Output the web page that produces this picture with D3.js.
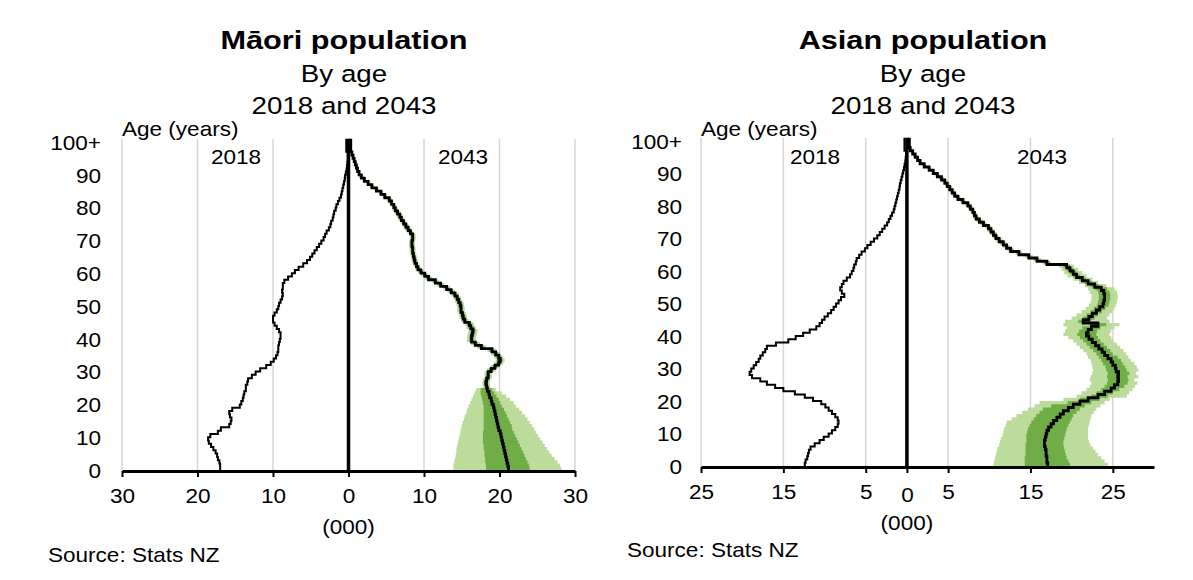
<!DOCTYPE html>
<html>
<head>
<meta charset="utf-8">
<script src="https://cdn.jsdelivr.net/npm/d3@7"></script>
<style>
body { margin: 0; background: #fff; }
text { font-family: "Liberation Sans", Arial, sans-serif; fill: #000; }
</style>
</head>
<body>
<div id="chart"></div>
<script>
// single years of age 0..100 (100 = 100+)
var ages = d3.range(0, 101);
var yTicks = [0, 10, 20, 30, 40, 50, 60, 70, 80, 90, 100];
var maoriXTicks = [-30, -20, -10, 0, 10, 20, 30];
var asianXTicks = [-25, -15, -5, 0, 5, 15, 25];

// Maori population (000)
var maori2018 = [17.0,17.0,17.1,17.3,17.4,17.6,17.9,18.2,18.5,18.6,
  18.3,17.3,16.9,15.8,15.6,15.5,15.7,15.8,15.4,14.4,
  14.2,14.0,13.9,13.8,13.6,13.6,13.4,13.3,12.8,12.3,
  11.7,10.9,10.3,9.9,9.6,9.4,9.3,9.3,9.2,9.1,
  9.0,9.0,9.2,9.5,9.8,10.0,10.0,9.8,9.5,9.3,
  9.2,9.0,8.8,8.7,8.8,8.7,8.7,8.5,8.0,7.5,
  7.1,6.6,6.0,5.5,5.1,4.8,4.5,4.2,3.9,3.6,
  3.3,3.1,2.9,2.6,2.4,2.3,2.1,2.0,1.9,1.7,
  1.6,1.4,1.2,1.0,0.9,0.8,0.7,0.6,0.5,0.45,
  0.35,0.25,0.2,0.15,0.1,0.1,0.1,0.3,0.3,0.3,
  0.3];
var maori2043 = [21.2,21.1,21.0,20.9,20.8,20.7,20.6,20.5,20.4,20.3,
  20.2,20.1,19.9,19.8,19.7,19.6,19.5,19.4,19.3,19.2,
  19.0,18.9,18.7,18.6,18.4,18.3,18.2,18.3,18.5,18.5,
  18.9,19.4,19.9,20.1,19.9,19.5,19.0,17.6,16.8,16.3,
  16.3,16.4,16.5,16.2,16.0,15.4,15.2,15.1,14.9,14.9,
  14.8,14.6,14.4,14.1,13.6,13.0,12.2,11.5,10.6,10.1,
  9.6,9.2,9.0,8.8,8.7,8.6,8.5,8.5,8.4,8.4,
  8.5,8.5,8.2,7.9,7.6,7.3,7.0,6.8,6.5,6.2,
  6.0,5.7,5.4,4.8,4.3,3.7,3.1,2.6,2.1,1.7,
  1.4,1.2,1.05,0.9,0.75,0.6,0.45,0.3,0.3,0.3,
  0.3];
var maoriLo90 = [13.9,13.9,14.0,14.1,14.2,14.3,14.3,14.4,14.5,14.6,
  14.7,14.8,14.9,15.0,15.1,15.3,15.4,15.6,15.7,15.9,
  16.1,16.3,16.5,16.7,16.9,17.8,17.7,17.8,18.0,18.0,
  18.3,18.8,19.3,19.5,19.3,18.9,18.4,17.0,16.2,15.7,
  15.7,15.8,15.9,15.6,15.4,14.9,14.7,14.6,14.4,14.4,
  14.3,14.1,13.9,13.6,13.1,12.5,11.7,11.0,10.1,9.6,
  9.2,8.8,8.6,8.4,8.3,8.2,8.1,8.1,8.0,8.0,
  8.1,8.1,7.8,7.5,7.2,6.9,6.6,6.4,6.1,5.8,
  5.7,5.4,5.1,4.5,4.0,3.4,2.8,2.3,1.8,1.4,
  1.25,1.05,0.9,0.75,0.6,0.45,0.3,0.15,0.05,0.0,
  0.0];
var maoriHi90 = [28.2,28.0,27.7,27.3,26.9,26.6,26.3,26.0,25.7,25.4,
  25.1,24.8,24.6,24.3,24.0,23.7,23.4,23.0,22.6,22.2,
  21.9,21.4,20.9,20.3,19.5,18.8,18.7,18.8,19.0,19.0,
  19.5,20.0,20.5,20.7,20.5,20.1,19.6,18.2,17.4,16.9,
  16.9,17.0,17.1,16.8,16.6,15.9,15.7,15.6,15.4,15.4,
  15.3,15.1,14.9,14.6,14.1,13.5,12.7,12.0,11.1,10.6,
  10.0,9.6,9.4,9.2,9.1,9.0,8.9,8.9,8.8,8.8,
  8.9,8.9,8.6,8.3,8.0,7.7,7.4,7.2,6.9,6.6,
  6.3,6.0,5.7,5.1,4.6,4.0,3.4,2.9,2.4,2.0,
  1.55,1.35,1.2,1.05,0.9,0.75,0.6,0.45,0.35,0.3,
  0.25];
var maoriLo50 = [18.2,18.2,18.1,18.1,18.0,18.0,17.9,17.9,17.8,17.8,
  17.8,17.8,17.9,17.9,17.9,17.9,17.9,17.9,17.9,17.9,
  17.8,17.7,17.6,17.5,17.5,18.05,17.95,18.05,18.25,18.25,
  18.6,19.1,19.6,19.8,19.6,19.2,18.7,17.3,16.5,16.0,
  16.0,16.1,16.2,15.9,15.7,15.15,14.95,14.85,14.65,14.65,
  14.55,14.35,14.15,13.85,13.35,12.75,11.95,11.25,10.35,9.85,
  9.4,9.0,8.8,8.6,8.5,8.4,8.3,8.3,8.2,8.2,
  8.3,8.3,8.0,7.7,7.4,7.1,6.8,6.6,6.3,6.0,
  5.85,5.55,5.25,4.65,4.15,3.55,2.95,2.45,1.95,1.55,
  1.35,1.15,1.0,0.85,0.7,0.55,0.4,0.25,0.15,0.1,
  0.05];
var maoriHi50 = [24.0,23.9,23.7,23.5,23.3,23.1,22.9,22.7,22.5,22.3,
  22.1,21.9,21.7,21.6,21.4,21.2,21.0,20.8,20.6,20.3,
  20.1,19.9,19.6,19.3,19.0,18.55,18.45,18.55,18.75,18.75,
  19.2,19.7,20.2,20.4,20.2,19.8,19.3,17.9,17.1,16.6,
  16.6,16.7,16.8,16.5,16.3,15.65,15.45,15.35,15.15,15.15,
  15.05,14.85,14.65,14.35,13.85,13.25,12.45,11.75,10.85,10.35,
  9.8,9.4,9.2,9.0,8.9,8.8,8.7,8.7,8.6,8.6,
  8.7,8.7,8.4,8.1,7.8,7.5,7.2,7.0,6.7,6.4,
  6.15,5.85,5.55,4.95,4.45,3.85,3.25,2.75,2.25,1.85,
  1.45,1.25,1.1,0.95,0.8,0.65,0.5,0.35,0.25,0.2,
  0.15];

// Asian population (000)
var asian2018 = [12.4,12.3,12.1,12.0,11.9,11.7,11.2,10.6,10.1,9.5,
  9.1,8.7,8.4,8.3,8.4,8.7,9.1,9.5,9.9,10.4,
  11.4,12.4,13.6,15.0,16.0,17.0,17.8,18.8,19.1,18.9,
  18.6,18.3,18.0,17.8,17.5,17.2,17.0,15.9,14.4,13.5,
  12.6,11.8,11.0,10.6,10.3,10.0,9.6,9.2,8.9,8.6,
  8.3,8.0,7.6,7.9,8.1,7.9,7.7,7.3,6.9,6.7,
  6.5,6.4,6.2,6.1,5.8,5.5,5.1,4.8,4.4,4.0,
  3.6,3.3,3.0,2.7,2.4,2.2,2.0,1.8,1.6,1.5,
  1.4,1.3,1.2,1.1,1.0,0.9,0.85,0.75,0.65,0.55,
  0.45,0.35,0.28,0.2,0.15,0.1,0.1,0.3,0.3,0.3,
  0.3];
var asian2043 = [17.1,17.0,17.0,16.9,16.9,16.8,16.7,16.7,16.8,16.9,
  17.0,17.2,17.5,17.8,18.2,18.6,19.0,19.6,20.2,21.0,
  22.0,23.2,24.0,24.8,25.2,25.6,25.7,25.6,25.7,25.4,
  25.3,25.0,24.8,24.4,24.0,23.7,23.3,22.9,22.5,22.1,
  21.8,22.0,22.4,23.2,21.4,22.1,22.5,23.0,23.4,23.8,
  23.9,24.0,24.0,23.9,23.6,22.8,22.0,21.3,20.6,20.2,
  19.8,19.4,17.0,15.8,14.8,13.6,12.6,12.1,11.7,11.2,
  10.8,10.5,10.2,9.9,9.3,8.8,8.4,8.2,8.0,7.7,
  7.4,6.8,6.2,5.8,5.5,5.2,4.9,4.6,4.2,3.7,
  3.2,2.7,2.1,1.6,1.3,1.0,0.7,0.4,0.3,0.3,
  0.3];
var asianLo90 = [10.5,10.6,10.7,10.8,10.9,11.0,11.2,11.3,11.4,11.6,
  11.7,11.8,12.0,12.1,12.7,13.3,14.0,14.7,15.5,16.1,
  19.0,20.6,21.2,21.8,22.2,22.4,22.2,22.3,22.5,22.6,
  22.5,22.4,22.3,22.0,21.8,21.4,21.0,20.6,20.2,19.6,
  19.0,19.2,19.4,19.0,19.2,20.0,20.6,21.2,21.7,22.1,
  22.3,22.4,22.4,22.2,22.0,21.6,20.9,20.2,19.5,19.1,
  18.8,18.5,16.5,15.3,14.3,13.2,12.2,11.7,11.3,10.8,
  10.4,10.1,9.8,9.5,8.9,8.4,8.1,7.9,7.7,7.4,
  7.1,6.5,5.9,5.5,5.2,4.9,4.6,4.3,3.9,3.4,
  3.0,2.5,1.9,1.4,1.1,0.8,0.5,0.25,0.15,0.1,
  0.05];
var asianHi90 = [24.4,24.0,23.6,23.2,22.9,22.6,22.3,22.1,22.0,22.0,
  22.0,22.0,22.1,22.2,22.3,22.4,22.7,23.0,23.5,24.0,
  24.6,26.7,27.0,27.4,27.7,28.0,27.6,28.1,27.8,28.1,
  27.9,27.6,27.2,26.9,26.6,26.3,25.9,25.5,25.1,24.8,
  24.6,24.8,25.2,25.8,24.6,24.3,24.6,24.9,25.2,25.4,
  25.5,25.6,25.6,25.5,25.2,24.2,23.2,22.5,21.8,21.3,
  20.8,20.3,17.5,16.3,15.3,14.0,13.0,12.5,12.1,11.6,
  11.2,10.9,10.6,10.3,9.7,9.2,8.7,8.5,8.3,8.0,
  7.7,7.1,6.5,6.1,5.8,5.5,5.2,4.9,4.5,4.0,
  3.4,2.9,2.3,1.8,1.5,1.2,0.9,0.55,0.45,0.3,
  0.15];
var asianLo50 = [14.3,14.3,14.3,14.4,14.4,14.4,14.4,14.5,14.5,14.5,
  14.6,14.7,14.9,15.1,15.4,15.7,16.1,16.5,17.5,19.5,
  21.0,22.4,23.0,23.6,24.0,24.3,24.4,24.3,24.4,24.2,
  24.1,23.8,23.6,23.3,23.0,22.6,22.2,21.8,21.4,21.0,
  20.7,20.9,21.3,22.2,20.8,21.4,21.8,22.3,22.7,23.1,
  23.2,23.3,23.3,23.2,22.9,22.3,21.6,20.9,20.2,19.8,
  19.4,19.0,16.7,15.6,14.6,13.4,12.4,11.9,11.5,11.0,
  10.6,10.3,10.0,9.7,9.1,8.6,8.3,8.1,7.9,7.6,
  7.3,6.7,6.1,5.7,5.4,5.1,4.8,4.5,4.1,3.6,
  3.1,2.6,2.0,1.5,1.2,0.9,0.6,0.35,0.25,0.15,
  0.08];
var asianHi50 = [19.8,19.6,19.4,19.3,19.2,19.1,19.0,19.0,19.1,19.2,
  19.3,19.4,19.6,19.8,20.0,20.2,20.6,21.0,21.6,22.4,
  23.4,24.4,25.0,25.8,26.4,26.8,26.9,26.8,27.0,26.7,
  26.5,26.2,26.0,25.6,25.0,24.7,24.3,23.9,23.5,23.2,
  23.0,23.1,23.5,24.2,22.2,22.8,23.2,23.7,24.1,24.5,
  24.6,24.7,24.7,24.6,24.3,23.3,22.4,21.7,21.0,20.6,
  20.2,19.8,17.3,16.0,15.0,13.8,12.8,12.3,11.9,11.4,
  11.0,10.7,10.4,10.1,9.5,9.0,8.5,8.3,8.1,7.8,
  7.5,6.9,6.3,5.9,5.6,5.3,5.0,4.7,4.3,3.8,
  3.3,2.8,2.2,1.7,1.4,1.1,0.8,0.45,0.35,0.25,
  0.12];

var SX = 1.18, SXs = 1.1; // text in the original is stretched sideways
var light = "#bcdc9c", dark = "#70ad47";

var svg = d3.select("#chart").append("svg")
    .attr("width", 1193)
    .attr("height", 580);

function label(g, x, y, s, size, anchor, weight, sx) {
    return g.append("text")
        .attr("transform", "translate(" + x + "," + y + ") scale(" + (sx || SX) + ",1)")
        .attr("text-anchor", anchor || "middle")
        .style("font-size", size + "px")
        .style("font-weight", weight || "normal")
        .text(s);
}

// step points: every age is a one-year slab
function steps(vals, sign) {
    var pts = [];
    ages.forEach(function(a) {
        pts.push([sign * vals[a], a]);
        pts.push([sign * vals[a], a + 1]);
    });
    return pts;
}
function bandPts(lo, hi) {
    var pts = [];
    ages.forEach(function(a) {
        pts.push({a: a, lo: lo[a], hi: hi[a]});
        pts.push({a: a + 1, lo: lo[a], hi: hi[a]});
    });
    return pts;
}

function drawPanel(p) {
    var x = d3.scaleLinear().domain(p.xDomain).range(p.xRange);
    var y = d3.scaleLinear().domain([0, 101]).range(p.yRange);
    var g = svg.append("g");

    // gridlines
    g.selectAll(".grid")
        .data(p.xTicks.filter(function(d) { return d !== 0; }))
        .enter().append("line")
        .attr("x1", function(d) { return x(d); })
        .attr("x2", function(d) { return x(d); })
        .attr("y1", y(101))
        .attr("y2", y(0))
        .style("stroke", "#d6d6d6")
        .style("stroke-width", 1.5);

    // projection intervals
    var area = d3.area()
        .y(function(d) { return y(d.a); })
        .x0(function(d) { return x(d.lo); })
        .x1(function(d) { return x(d.hi); });
    g.append("path").attr("d", area(bandPts(p.lo90, p.hi90))).style("fill", light);
    g.append("path").attr("d", area(bandPts(p.lo50, p.hi50))).style("fill", dark);

    var line = d3.line()
        .x(function(d) { return x(d[0]); })
        .y(function(d) { return y(d[1]); });
    g.append("path").attr("d", line(steps(p.base, -1)))
        .style("fill", "none").style("stroke", "#000").style("stroke-width", 2);
    g.append("path").attr("d", line(steps(p.median, 1)))
        .style("fill", "none").style("stroke", "#000").style("stroke-width", 2.8);

    // centre line
    g.append("line")
        .attr("x1", x(0)).attr("x2", x(0))
        .attr("y1", y(101)).attr("y2", y(0))
        .style("stroke", "#000").style("stroke-width", 3.5);

    // x axis
    var xAxis = g.append("g")
        .attr("transform", "translate(0," + (y(0) + 1) + ")")
        .call(d3.axisBottom(x).tickValues(p.xTicks)
            .tickFormat(function(d) { return Math.abs(d); })
            .tickSize(6).tickSizeOuter(0));
    xAxis.select(".domain").style("stroke-width", 3);
    xAxis.selectAll(".tick line").style("stroke-width", 2);
    xAxis.selectAll("text")
        .attr("y", 17)
        .attr("dy", function(d) { return d === 0 ? p.zeroDy : "0.71em"; })
        .attr("transform", "scale(" + SXs + ",1)")
        .style("font-size", "20.5px");

    // y axis
    var yAxis = g.append("g")
        .attr("transform", "translate(" + p.yLabelX + ",0)")
        .call(d3.axisLeft(y).tickValues(yTicks)
            .tickFormat(function(d) { return d === 100 ? "100+" : d; })
            .tickSize(0));
    yAxis.select(".domain").remove();
    yAxis.selectAll("text")
        .attr("x", 0)
        .attr("dy", "0.36em")
        .attr("transform", "scale(" + SXs + ",1)")
        .style("font-size", "20.5px");

    // texts
    label(g, p.cx, 49, p.title, 26, "middle", "bold");
    label(g, p.cx, 82, "By age", 23.5);
    label(g, p.cx, 114, "2018 and 2043", 23.5);
    label(g, x(p.xDomain[0]), 136, "Age (years)", 20.5, "start", null, SXs);
    label(g, p.lbl2018, 164, "2018", 20.5, "middle", null, SXs);
    label(g, p.lbl2043, 164, "2043", 20.5, "middle", null, SXs);
    label(g, x(0), y(0) + 64, "(000)", 20.5, "middle", null, SXs);
    label(g, p.srcX, p.srcY, "Source: Stats  NZ", 20.5, "start", null, SXs);
}

drawPanel({
    title: "Māori population",
    base: maori2018, median: maori2043,
    lo90: maoriLo90, hi90: maoriHi90, lo50: maoriLo50, hi50: maoriHi50,
    xDomain: [-30, 30], xRange: [122, 575], yRange: [470, 138.7],
    xTicks: maoriXTicks, zeroDy: "0.71em",
    yLabelX: 101, cx: 344, lbl2018: 236, lbl2043: 463,
    srcX: 48, srcY: 562
});

drawPanel({
    title: "Asian population",
    base: asian2018, median: asian2043,
    lo90: asianLo90, hi90: asianHi90, lo50: asianLo50, hi50: asianHi50,
    xDomain: [-25, 30], xRange: [701, 1154], yRange: [466, 137.75],
    xTicks: asianXTicks, zeroDy: "0.9em",
    yLabelX: 682, cx: 923, lbl2018: 815, lbl2043: 1042,
    srcX: 627, srcY: 557
});
</script>
</body>
</html>
